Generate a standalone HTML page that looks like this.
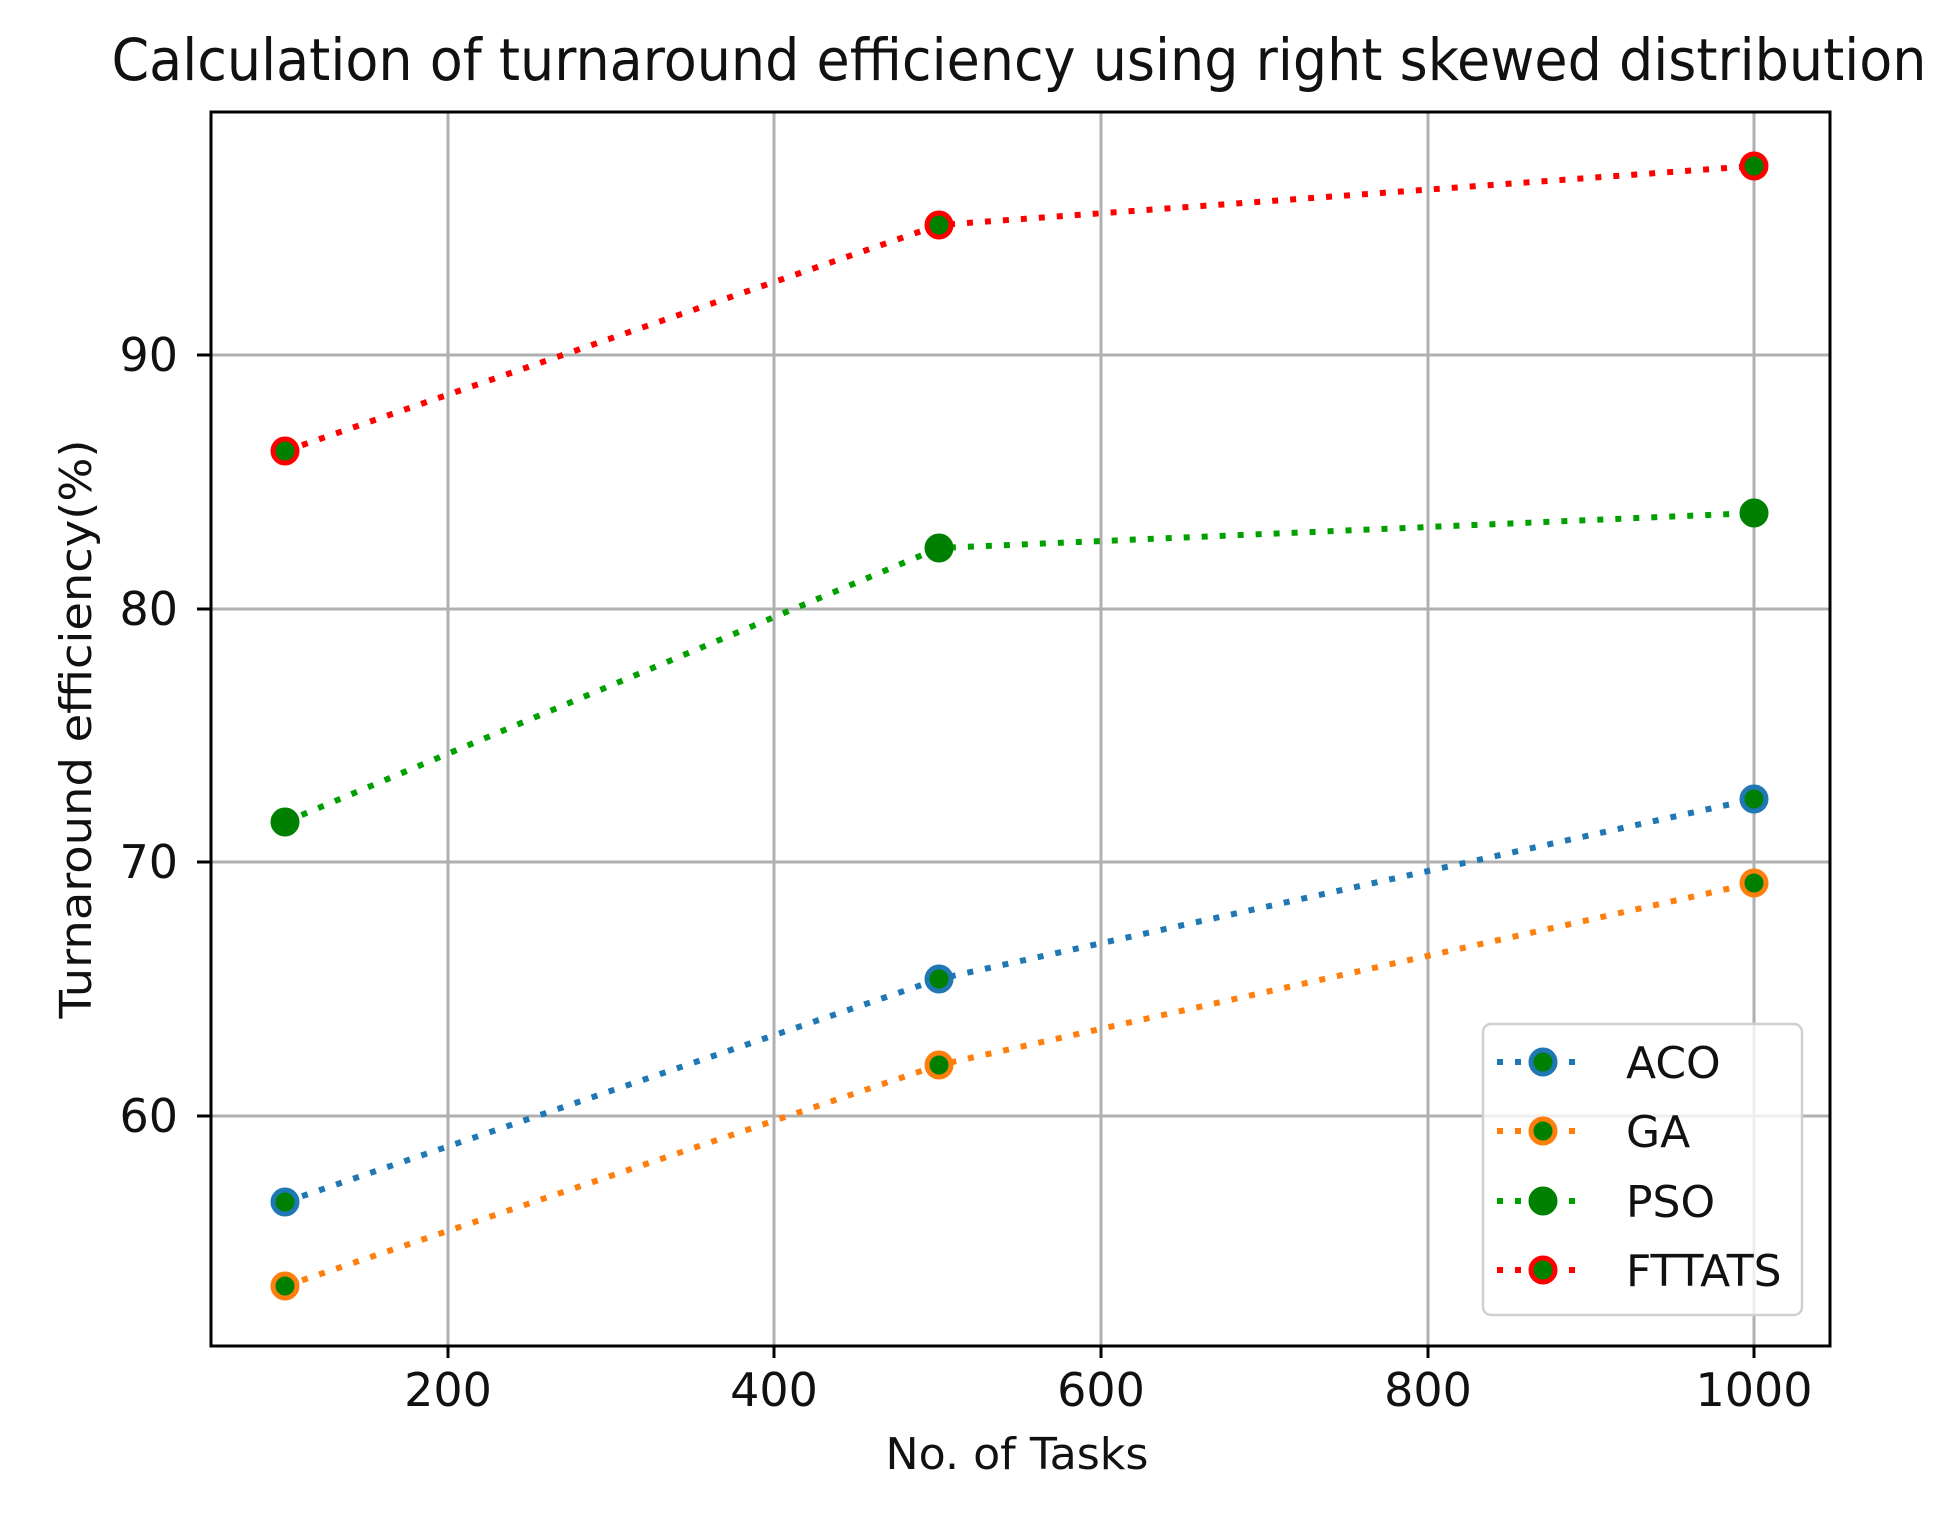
<!DOCTYPE html>
<html><head><meta charset="utf-8"><style>html,body{margin:0;padding:0;background:#fff}svg{display:block}text{font-family:"DejaVu Sans","Liberation Sans",sans-serif;fill:#111}</style></head>
<body>
<svg width="1953" height="1524" viewBox="0 0 1953 1524" xmlns="http://www.w3.org/2000/svg">
<text x="1019" y="80" font-size="58" text-anchor="middle" textLength="1815" lengthAdjust="spacingAndGlyphs">Calculation of turnaround efficiency using right skewed distribution</text>
<g stroke="#b0b0b0" stroke-width="3">
<line x1="448" y1="112" x2="448" y2="1346"/><line x1="774" y1="112" x2="774" y2="1346"/><line x1="1101" y1="112" x2="1101" y2="1346"/><line x1="1428" y1="112" x2="1428" y2="1346"/><line x1="1754" y1="112" x2="1754" y2="1346"/>
<line x1="211" y1="355" x2="1830" y2="355"/><line x1="211" y1="609" x2="1830" y2="609"/><line x1="211" y1="862" x2="1830" y2="862"/><line x1="211" y1="1116" x2="1830" y2="1116"/>
</g>
<rect x="211" y="112" width="1619" height="1234" fill="none" stroke="#000" stroke-width="3"/>
<g stroke="#000" stroke-width="3">
<line x1="448" y1="1346" x2="448" y2="1358"/><line x1="774" y1="1346" x2="774" y2="1358"/><line x1="1101" y1="1346" x2="1101" y2="1358"/><line x1="1428" y1="1346" x2="1428" y2="1358"/><line x1="1754" y1="1346" x2="1754" y2="1358"/>
<line x1="197" y1="355" x2="211" y2="355"/><line x1="197" y1="609" x2="211" y2="609"/><line x1="197" y1="862" x2="211" y2="862"/><line x1="197" y1="1116" x2="211" y2="1116"/>
</g>
<g font-size="46" text-anchor="middle">
<text x="448" y="1406">200</text><text x="774" y="1406">400</text><text x="1101" y="1406">600</text><text x="1428" y="1406">800</text><text x="1754" y="1406">1000</text>
</g>
<g font-size="46" text-anchor="end">
<text x="178" y="371">90</text><text x="178" y="625">80</text><text x="178" y="878">70</text><text x="178" y="1132">60</text>
</g>
<text x="1017" y="1469" font-size="44" text-anchor="middle" textLength="263" lengthAdjust="spacingAndGlyphs">No. of Tasks</text>
<text transform="translate(91,729) rotate(-90)" font-size="44" text-anchor="middle" textLength="579" lengthAdjust="spacingAndGlyphs">Turnaround efficiency(%)</text>
<g fill="none" stroke-width="6" stroke-dasharray="6 12" stroke-linecap="butt">
<polyline stroke="#1f77b4" points="285,1202 939,979 1754,799"/>
<polyline stroke="#ff7f0e" points="285,1286 939,1065 1754,883"/>
<polyline stroke="#00a000" points="285,822 939,548 1754,513"/>
<polyline stroke="#ff0000" points="285,451 939,225 1754,166"/>
</g>
<g fill="#008000" stroke-width="5">
<circle cx="285" cy="1202" r="12" stroke="#1f77b4"/><circle cx="939" cy="979" r="12" stroke="#1f77b4"/><circle cx="1754" cy="799" r="12" stroke="#1f77b4"/>
<circle cx="285" cy="1286" r="12" stroke="#ff7f0e"/><circle cx="939" cy="1065" r="12" stroke="#ff7f0e"/><circle cx="1754" cy="883" r="12" stroke="#ff7f0e"/>
<circle cx="285" cy="822" r="12" stroke="#008000"/><circle cx="939" cy="548" r="12" stroke="#008000"/><circle cx="1754" cy="513" r="12" stroke="#008000"/>
<circle cx="285" cy="451" r="12" stroke="#ff0000"/><circle cx="939" cy="225" r="12" stroke="#ff0000"/><circle cx="1754" cy="166" r="12" stroke="#ff0000"/>
</g>
<rect x="1483" y="1024" width="319" height="291" rx="8" fill="#fff" fill-opacity="0.8" stroke="#d0d0d0" stroke-width="2.5"/>
<g stroke-width="6" stroke-dasharray="6 12">
<line x1="1497" y1="1062" x2="1585" y2="1062" stroke="#1f77b4"/>
<line x1="1497" y1="1131" x2="1585" y2="1131" stroke="#ff7f0e"/>
<line x1="1497" y1="1201" x2="1585" y2="1201" stroke="#00a000"/>
<line x1="1497" y1="1270" x2="1585" y2="1270" stroke="#ff0000"/>
</g>
<g fill="#008000" stroke-width="5">
<circle cx="1543" cy="1062" r="12" stroke="#1f77b4"/><circle cx="1543" cy="1131" r="12" stroke="#ff7f0e"/><circle cx="1543" cy="1201" r="12" stroke="#008000"/><circle cx="1543" cy="1270" r="12" stroke="#ff0000"/>
</g>
<g font-size="44">
<text x="1626" y="1078">ACO</text><text x="1626" y="1147">GA</text><text x="1626" y="1217">PSO</text><text x="1626" y="1286">FTTATS</text>
</g>
</svg>
</body></html>
